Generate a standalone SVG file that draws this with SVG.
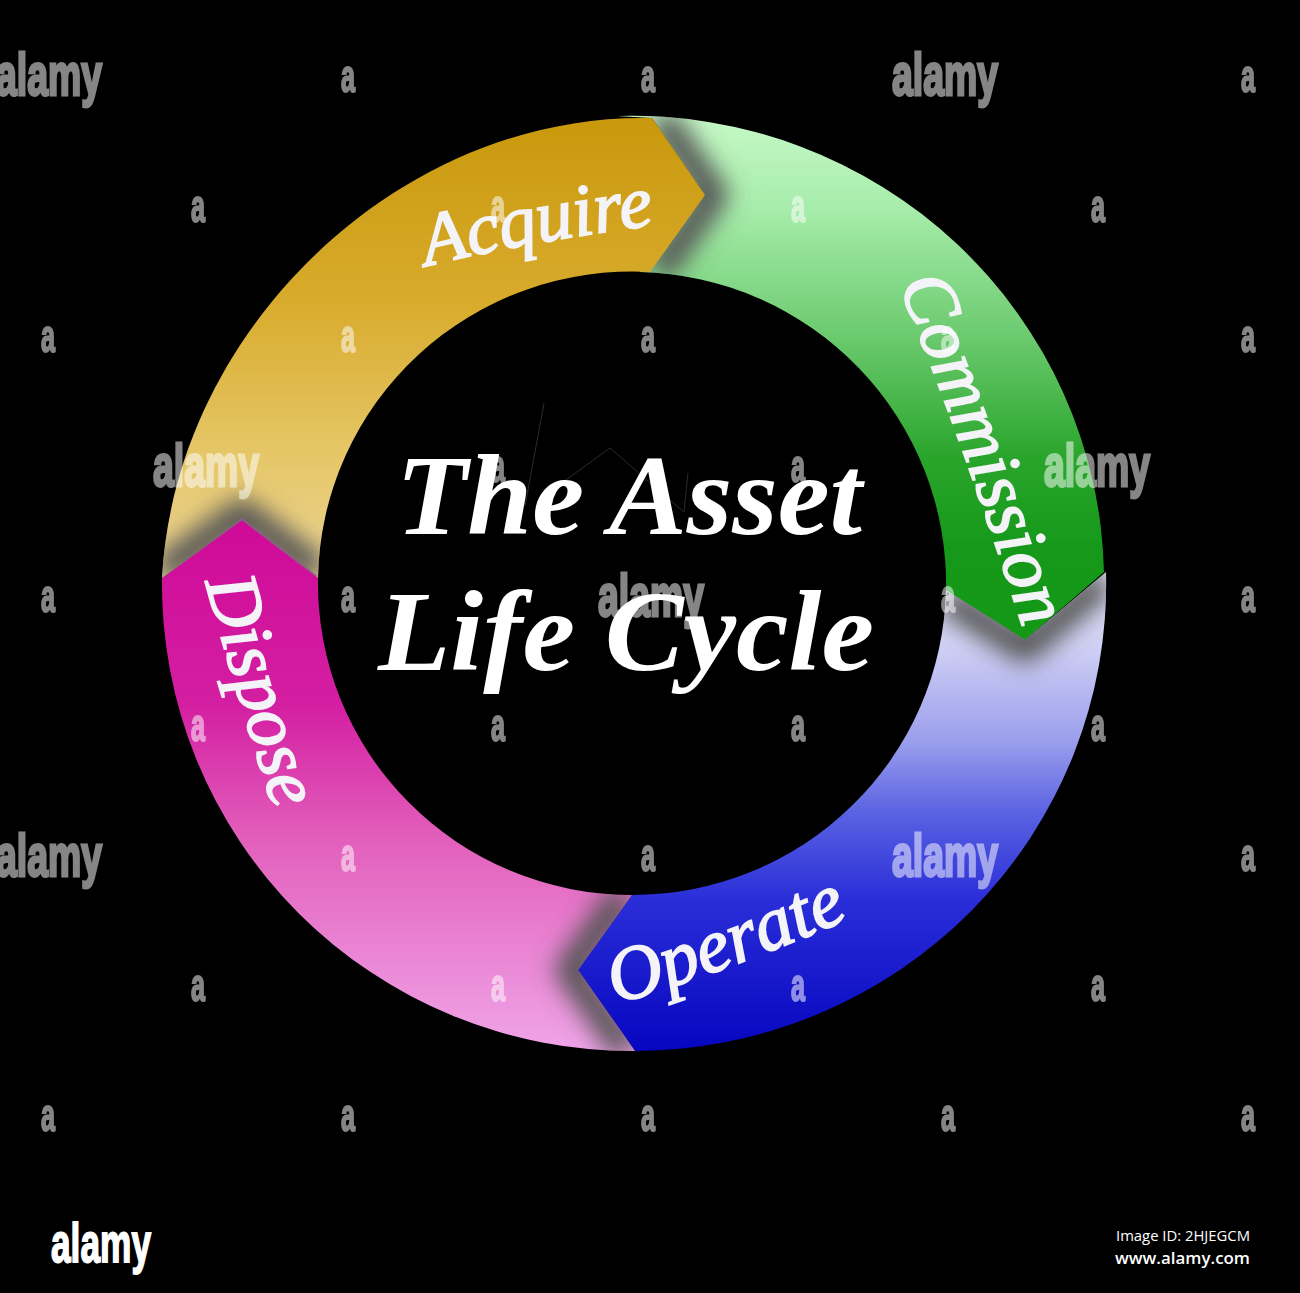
<svg xmlns="http://www.w3.org/2000/svg" xmlns:xlink="http://www.w3.org/1999/xlink" width="1300" height="1293" viewBox="0 0 1300 1293">
<style>
.lbl{font-family:"Liberation Serif","Times New Roman",serif;font-style:italic;fill:#f4f4f8;stroke:#f4f4f8;stroke-width:1.8}
.title{font-family:"Liberation Serif","Times New Roman",serif;font-style:italic;font-weight:bold;fill:#fff;font-size:115px}
.wm{font-family:"Liberation Sans",Arial,sans-serif;font-weight:bold;fill:#fff;stroke:#fff;opacity:.52}
.big{font-size:60px;stroke-width:3}
.sm{font-size:46px;stroke-width:2}
.shadow{fill:none;stroke:#555;stroke-width:30;stroke-linejoin:round;filter:url(#blur)}
.scratch{fill:none;stroke:#2e2a28;stroke-width:1}
</style>
<defs>
<filter id="blur" filterUnits="userSpaceOnUse" x="0" y="0" width="1300" height="1293"><feGaussianBlur stdDeviation="12"/></filter>
<linearGradient id="gAcq" gradientUnits="userSpaceOnUse" x1="0" y1="117" x2="0" y2="580">
<stop offset="0" stop-color="#c9980c"/><stop offset=".4" stop-color="#d8ab2c"/><stop offset=".72" stop-color="#e5c666"/><stop offset="1" stop-color="#ecd596"/></linearGradient>
<linearGradient id="gCom" gradientUnits="userSpaceOnUse" x1="0" y1="117" x2="0" y2="640">
<stop offset="0" stop-color="#c6f8c6"/><stop offset=".18" stop-color="#a6ecaa"/><stop offset=".42" stop-color="#6bca6e"/><stop offset=".65" stop-color="#2aa52c"/><stop offset=".82" stop-color="#16991a"/><stop offset="1" stop-color="#149816"/></linearGradient>
<linearGradient id="gOpe" gradientUnits="userSpaceOnUse" x1="0" y1="575" x2="0" y2="1051">
<stop offset="0" stop-color="#e6e6fa"/><stop offset=".15" stop-color="#d0d0f5"/><stop offset=".35" stop-color="#9a9eec"/><stop offset=".5" stop-color="#5a62e2"/><stop offset=".68" stop-color="#2a2ed8"/><stop offset="1" stop-color="#0606c0"/></linearGradient>
<linearGradient id="gDis" gradientUnits="userSpaceOnUse" x1="0" y1="520" x2="0" y2="1051">
<stop offset="0" stop-color="#cf0a98"/><stop offset=".35" stop-color="#d41fa2"/><stop offset=".6" stop-color="#e25fbb"/><stop offset="1" stop-color="#f0a5e8"/></linearGradient>
<path id="sAcq" d="M162,578 C175,330 400,112 652,118 L705,195 L650,272 A314,312 0 0 0 318,578 L242,520 Z"/>
<path id="sCom" d="M617,116 A472,467 0 0 1 1104,572 L1025,640 L946,590 A314,312 0 0 0 640,272 L705,195 L652,118 Z"/>
<path id="sOpe" d="M1106,572 A472,467 0 0 1 635,1051 L578,970 L632,895 A314,312 0 0 0 946,590 L1025,640 Z"/>
<path id="sDis" d="M635,1051 A470,467 0 0 1 162,578 L242,520 L318,578 A314,312 0 0 0 632,895 L578,970 Z"/>
<clipPath id="cAcq"><use xlink:href="#sAcq"/></clipPath>
<clipPath id="cCom"><use xlink:href="#sCom"/></clipPath>
<clipPath id="cOpe"><use xlink:href="#sOpe"/></clipPath>
<clipPath id="cDis"><use xlink:href="#sDis"/></clipPath>
<path id="tAcq" d="M420,268 Q530,240 680,222"/>
<path id="tCom" d="M893,272 Q960,430 1030,650"/>
<path id="tOpe" d="M612,1005 Q720,975 865,912"/>
<path id="tDis" d="M202,570 Q235,690 282,835"/>
</defs>
<rect width="1300" height="1293" fill="#000"/>
<g id="node-commission">
<use xlink:href="#sCom" fill="url(#gCom)"/>
<g clip-path="url(#cCom)"><polyline class="shadow" points="652,118 705,195 650,272" transform="translate(8,0)"/></g>
<text class="lbl" font-size="74"><textPath xlink:href="#tCom" startOffset="14">Commission</textPath></text>
</g>
<g id="node-operate">
<use xlink:href="#sOpe" fill="url(#gOpe)"/>
<g clip-path="url(#cOpe)"><polyline class="shadow" points="1104,572 1025,640 946,590" transform="translate(0,8)"/></g>
<text class="lbl" font-size="76"><textPath xlink:href="#tOpe" startOffset="4">Operate</textPath></text>
</g>
<g id="node-dispose">
<use xlink:href="#sDis" fill="url(#gDis)"/>
<g clip-path="url(#cDis)"><polyline class="shadow" points="635,1051 578,970 632,895" transform="translate(-8,0)"/></g>
<text class="lbl" font-size="74"><textPath xlink:href="#tDis" startOffset="13">Dispose</textPath></text>
</g>
<g id="node-acquire">
<use xlink:href="#sAcq" fill="url(#gAcq)"/>
<g clip-path="url(#cAcq)"><polyline class="shadow" points="162,578 242,520 318,578" transform="translate(0,-6)"/>
<polyline points="165,578 242,520 316,577" fill="none" stroke="#8f5a90" stroke-width="3"/></g>
<text class="lbl" font-size="74"><textPath xlink:href="#tAcq" startOffset="7">Acquire</textPath></text>
</g>
<g id="connectors"></g>
<g id="node-centre">
<polyline class="scratch" points="544,403 525,506"/>
<polyline class="scratch" points="563,482 610,448 684,512 688,473"/>
<text class="title" x="396" y="534" textLength="466" lengthAdjust="spacingAndGlyphs">The Asset</text>
<text class="title" x="378" y="670" textLength="496" lengthAdjust="spacingAndGlyphs">Life Cycle</text>
</g>
<g id="watermarks">
<text class="wm big" x="-4" y="95" textLength="106" lengthAdjust="spacingAndGlyphs">alamy</text>
<text class="wm big" x="892" y="95" textLength="106" lengthAdjust="spacingAndGlyphs">alamy</text>
<text class="wm big" x="153" y="486" textLength="106" lengthAdjust="spacingAndGlyphs">alamy</text>
<text class="wm big" x="1044" y="486" textLength="106" lengthAdjust="spacingAndGlyphs">alamy</text>
<text class="wm big" x="598" y="616" textLength="106" lengthAdjust="spacingAndGlyphs">alamy</text>
<text class="wm big" x="-4" y="876" textLength="106" lengthAdjust="spacingAndGlyphs">alamy</text>
<text class="wm big" x="892" y="876" textLength="106" lengthAdjust="spacingAndGlyphs">alamy</text>
<text class="wm sm" x="341" y="92" textLength="14" lengthAdjust="spacingAndGlyphs">a</text>
<text class="wm sm" x="641" y="92" textLength="14" lengthAdjust="spacingAndGlyphs">a</text>
<text class="wm sm" x="1241" y="92" textLength="14" lengthAdjust="spacingAndGlyphs">a</text>
<text class="wm sm" x="191" y="222" textLength="14" lengthAdjust="spacingAndGlyphs">a</text>
<text class="wm sm" x="491" y="222" textLength="14" lengthAdjust="spacingAndGlyphs">a</text>
<text class="wm sm" x="791" y="222" textLength="14" lengthAdjust="spacingAndGlyphs">a</text>
<text class="wm sm" x="1091" y="222" textLength="14" lengthAdjust="spacingAndGlyphs">a</text>
<text class="wm sm" x="41" y="352" textLength="14" lengthAdjust="spacingAndGlyphs">a</text>
<text class="wm sm" x="341" y="352" textLength="14" lengthAdjust="spacingAndGlyphs">a</text>
<text class="wm sm" x="641" y="352" textLength="14" lengthAdjust="spacingAndGlyphs">a</text>
<text class="wm sm" x="941" y="352" textLength="14" lengthAdjust="spacingAndGlyphs">a</text>
<text class="wm sm" x="1241" y="352" textLength="14" lengthAdjust="spacingAndGlyphs">a</text>
<text class="wm sm" x="491" y="482" textLength="14" lengthAdjust="spacingAndGlyphs">a</text>
<text class="wm sm" x="791" y="482" textLength="14" lengthAdjust="spacingAndGlyphs">a</text>
<text class="wm sm" x="41" y="612" textLength="14" lengthAdjust="spacingAndGlyphs">a</text>
<text class="wm sm" x="341" y="612" textLength="14" lengthAdjust="spacingAndGlyphs">a</text>
<text class="wm sm" x="941" y="612" textLength="14" lengthAdjust="spacingAndGlyphs">a</text>
<text class="wm sm" x="1241" y="612" textLength="14" lengthAdjust="spacingAndGlyphs">a</text>
<text class="wm sm" x="191" y="741" textLength="14" lengthAdjust="spacingAndGlyphs">a</text>
<text class="wm sm" x="491" y="741" textLength="14" lengthAdjust="spacingAndGlyphs">a</text>
<text class="wm sm" x="791" y="741" textLength="14" lengthAdjust="spacingAndGlyphs">a</text>
<text class="wm sm" x="1091" y="741" textLength="14" lengthAdjust="spacingAndGlyphs">a</text>
<text class="wm sm" x="341" y="871" textLength="14" lengthAdjust="spacingAndGlyphs">a</text>
<text class="wm sm" x="641" y="871" textLength="14" lengthAdjust="spacingAndGlyphs">a</text>
<text class="wm sm" x="1241" y="871" textLength="14" lengthAdjust="spacingAndGlyphs">a</text>
<text class="wm sm" x="191" y="1001" textLength="14" lengthAdjust="spacingAndGlyphs">a</text>
<text class="wm sm" x="491" y="1001" textLength="14" lengthAdjust="spacingAndGlyphs">a</text>
<text class="wm sm" x="791" y="1001" textLength="14" lengthAdjust="spacingAndGlyphs">a</text>
<text class="wm sm" x="1091" y="1001" textLength="14" lengthAdjust="spacingAndGlyphs">a</text>
<text class="wm sm" x="41" y="1131" textLength="14" lengthAdjust="spacingAndGlyphs">a</text>
<text class="wm sm" x="341" y="1131" textLength="14" lengthAdjust="spacingAndGlyphs">a</text>
<text class="wm sm" x="641" y="1131" textLength="14" lengthAdjust="spacingAndGlyphs">a</text>
<text class="wm sm" x="941" y="1131" textLength="14" lengthAdjust="spacingAndGlyphs">a</text>
<text class="wm sm" x="1241" y="1131" textLength="14" lengthAdjust="spacingAndGlyphs">a</text>
</g>
<g id="footer">
<text x="51" y="1262" font-family="Liberation Sans,Arial,sans-serif" font-weight="bold" font-size="56" fill="#fff" stroke="#fff" stroke-width="1.8" textLength="100" lengthAdjust="spacingAndGlyphs">alamy</text>
<text x="1116" y="1241" font-family="Open Sans,Liberation Sans,sans-serif" font-size="14.5" fill="#fff" textLength="134" lengthAdjust="spacingAndGlyphs">Image ID: 2HJEGCM</text>
<text x="1115" y="1264" font-family="Open Sans,Liberation Sans,sans-serif" font-size="15.5" font-weight="600" fill="#fff" textLength="135" lengthAdjust="spacingAndGlyphs">www.alamy.com</text>
</g>
</svg>
